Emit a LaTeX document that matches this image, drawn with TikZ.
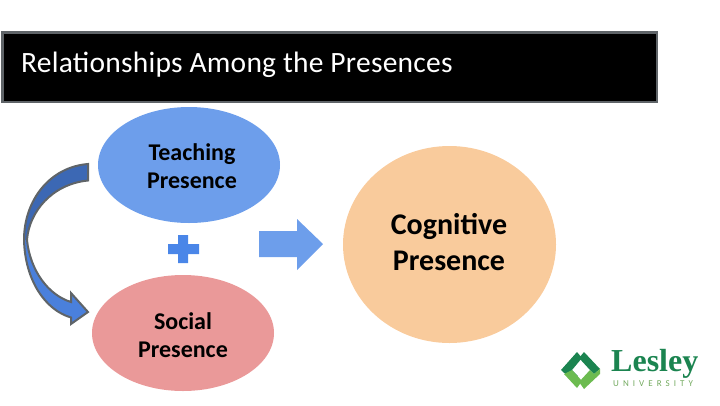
\documentclass[tikz,border=0pt]{standalone}
\usepackage{fontspec}
\setmainfont{Carlito}
\usetikzlibrary{shapes.geometric}
\definecolor{teachblue}{HTML}{6D9EEB}
\definecolor{socialred}{HTML}{EA9999}
\definecolor{cogorange}{HTML}{F9CB9C}
\definecolor{plusblue}{HTML}{4A86E8}
\definecolor{arcdark}{HTML}{3C68B4}
\definecolor{arclight}{HTML}{4A80DC}
\definecolor{edgegray}{HTML}{5F6468}
\definecolor{lesleydark}{HTML}{1B8450}
\definecolor{lesleylight}{HTML}{6CBB50}

\begin{document}
\begin{tikzpicture}[x=1pt, y=-1pt,
    main/.style = {ellipse, inner sep=0pt, align=center, text=black},
    small/.style = {main, font=\bfseries\fontsize{24}{28}\selectfont},
    big/.style = {main, font=\bfseries\fontsize{30}{36}\selectfont}]
    \useasboundingbox (0,0) rectangle (720,405);

    % Title
    \node[draw=edgegray, line width=2.5pt, fill=black, minimum width=654.5pt, minimum height=69.5pt,
        anchor=north west, inner sep=0pt] (titlebar) at (1,31) {};
    \node[anchor=west, inner sep=0pt, text=white, font=\addfontfeature{LetterSpace=0.8}\fontsize{29.5}{34}\selectfont] (title) at (21,65) {Relationships Among the Presences};

    % Nodes
    \node[small, fill=teachblue, minimum width=182pt, minimum height=116pt] (teaching) at (189,165) {};
    \node[small] (teachingtext) at (192,166) {Teaching\\Presence};
    \node[small, fill=socialred, minimum width=182pt, minimum height=116pt] (social) at (183,333) {};
    \node[small] (socialtext) at (183,335) {Social\\Presence};
    \node[big, fill=cogorange, minimum width=213pt, minimum height=197pt] (cognitive) at (449.5,244.5) {};
    \node[big] (cognitivetext) at (449,242) {Cognitive\\Presence};

    % Plus and block arrow
    \fill[plusblue] (178,235) -- (188,235) -- (188,244) -- (199,244) -- (199,254) -- (188,254)
        -- (188,263) -- (178,263) -- (178,254) -- (168,254) -- (168,244) -- (178,244) -- cycle;
    \fill[teachblue] (259,231) -- (297,231) -- (297,219) -- (323,244) -- (297,270) -- (297,257) -- (259,257) -- cycle;

    % Curved arrow
    \fill[arcdark] (88,164) .. controls (50,167) and (24,200) .. (24,240)
        -- (27,240) .. controls (29,212) and (52,184) .. (88,180.5) -- cycle;
    \fill[arclight] (24,240) .. controls (25,280) and (45,310) .. (71,317.5) -- (71,324) -- (88,312)
        -- (71,293) -- (71,302) .. controls (48,295) and (30,270) .. (27,240) -- cycle;
    \draw[edgegray, line width=2pt, line join=miter]
        (88,164) .. controls (50,167) and (24,200) .. (24,240)
        .. controls (25,280) and (45,310) .. (71,317.5) -- (71,324) -- (88,312)
        -- (71,293) -- (71,302) .. controls (48,295) and (30,270) .. (27,240)
        .. controls (29,212) and (52,184) .. (88,180.5) -- cycle;

    % Logo
    \fill[lesleydark] (561,370) -- (577,352) -- (582,358) -- (572,370) -- (578,376) -- (573,381) -- cycle;
    \fill[lesleylight] (572,370) -- (582,381) -- (577,388) -- (564,374) -- cycle;
    \fill[lesleydark] (584,352) -- (600,369) -- (594,374) -- (590,370) -- (579,358) -- cycle;
    \fill[lesleylight] (590,370) -- (594,374) -- (600,369) -- (600,374) -- (584,389) -- (579,382) -- cycle;
    \node[anchor=west, inner sep=0pt, text=lesleydark, font=\fontspec{Liberation Serif}\bfseries\fontsize{32}{32}\selectfont] (lesley) at (611,364) {Lesley};
    \node[anchor=west, inner sep=0pt, text=lesleylight!70!gray, font=\addfontfeature{LetterSpace=45}\fontsize{9}{9}\selectfont] (university) at (613,384) {UNIVERSITY};
\end{tikzpicture}
\end{document}
